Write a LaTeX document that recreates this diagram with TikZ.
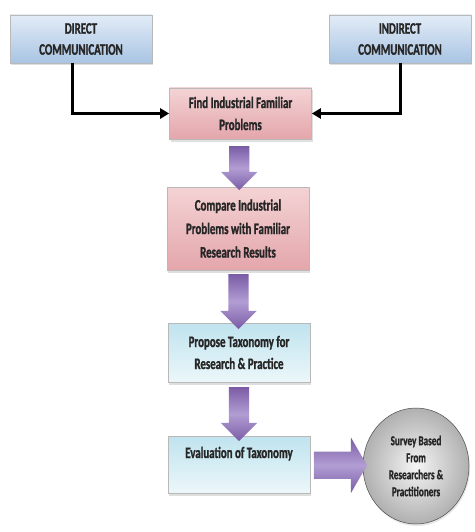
\documentclass[tikz,border=0pt]{standalone}
\usepackage{fontspec}
\setmainfont{Carlito}[FakeStretch=0.68, BoldFeatures={FakeBold=1.2}]
\usepackage{tikz}
\usetikzlibrary{positioning,calc,arrows.meta,shapes.geometric,shapes.arrows,shadows}
\definecolor{bluetop}{HTML}{E2ECF7}
\definecolor{bluebot}{HTML}{A9C4E3}
\definecolor{pinktop}{HTML}{F4D3D5}
\definecolor{pinkbot}{HTML}{E3A6AB}
\definecolor{cyantop}{HTML}{BFE3EE}
\definecolor{cyanbot}{HTML}{ECF7FA}
\definecolor{purpedge}{HTML}{7A5CA6}
\definecolor{purpmid}{HTML}{B29DD3}
\definecolor{inktext}{HTML}{262626}

\begin{document}
\begin{tikzpicture}[x=1pt, y=-1pt,
  box/.style={rectangle, draw=gray!55, line width=0.6pt, align=center, text=inktext,
    font=\bfseries\fontsize{16}{21}\selectfont,
    drop shadow={opacity=0.25, shadow xshift=1pt, shadow yshift=-2.5pt}},
  commbox/.style={box, top color=bluetop, bottom color=bluebot, minimum width=142pt, minimum height=48pt},
  pinkbox/.style={box, top color=pinktop, bottom color=pinkbot, minimum width=142pt},
  cyanbox/.style={box, top color=cyantop, bottom color=cyanbot, minimum width=142pt},
  fatarrow/.style={single arrow, draw=none, inner xsep=0pt, top color=purpedge, bottom color=purpedge, middle color=purpmid},
  fatdown/.style={fatarrow, rotate=-90, inner ysep=10pt, single arrow head extend=8pt},
  link/.style={line width=3pt, -{Triangle[length=9pt,width=10pt]}}
]

  \useasboundingbox (0,0) rectangle (474,532);

  % Sources
  \node[commbox] (direct) at (81,39) {DIRECT\\COMMUNICATION};
  \node[commbox] (indirect) at (400,39) {INDIRECT\\COMMUNICATION};

  % Main steps
  \node[pinkbox, minimum height=51pt] (find) at (240.5,113.5) {Find Industrial Familiar\\[1pt]Problems};
  \node[pinkbox, minimum height=83pt, font=\bfseries\fontsize{16}{23.5}\selectfont] (compare) at (238,228.5) {Compare Industrial\\Problems with Familiar\\Research Results};
  \node[cyanbox, minimum height=59pt] (propose) at (239,352.5) {Propose Taxonomy for\\[1pt]Research \& Practice};
  \node[cyanbox, minimum height=57pt, inner ysep=4pt, text height=18pt, text depth=31pt] (eval) at (239,464.5) {Evaluation of Taxonomy};

  % Survey
  \node[ellipse, minimum width=106pt, minimum height=116pt, draw=gray!60!black, line width=0.5pt,
    inner color=gray!8, outer color=gray!62, align=center, text=inktext,
    font=\bfseries\fontsize{13.5}{17}\selectfont,
    drop shadow={opacity=0.2, shadow xshift=1pt, shadow yshift=-2pt}] (survey) at (416,466)
    {Survey Based\\From\\Researchers \&\\Practitioners};

  % Black connectors
  \draw[link] ([xshift=-9pt]direct.south) |- (find.west);
  \draw[link] (indirect.south) |- (find.east);

  % Purple arrows
  \node[fatdown, minimum height=44pt] (a1) at ($(find.south)!0.5!(compare.north)$) {};
  \node[fatdown, minimum height=55pt] (a2) at ($(compare.south)!0.5!(propose.north)$) {};
  \node[fatdown, minimum height=54pt] (a3) at ($(propose.south)!0.5!(eval.north)$) {};
  \node[fatarrow, inner ysep=13.5pt, minimum height=53pt, single arrow head extend=14pt,
    single arrow tip angle=120] (a4) at ($(eval.east)!0.5!(survey.west)$) {};

\end{tikzpicture}
\end{document}
